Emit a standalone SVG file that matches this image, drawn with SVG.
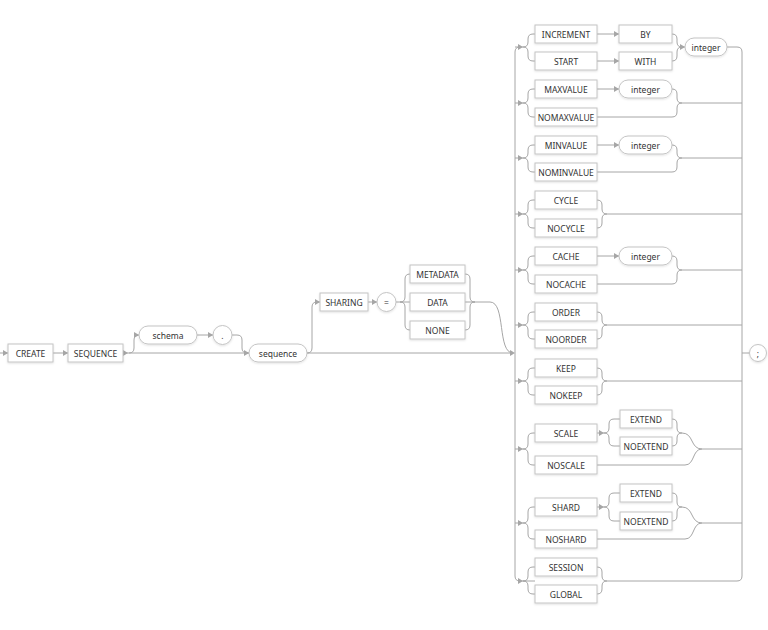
<svg xmlns="http://www.w3.org/2000/svg" width="768" height="630" viewBox="0 0 768 630">
<style>
.k{fill:#fff;stroke:#c4c4c4;stroke-width:1;filter:url(#sh)}
.t{font-family:"Noto Sans","Open Sans",sans-serif;font-size:8.5px;fill:#333;text-anchor:middle;dominant-baseline:central}
.c path{fill:none;stroke:#a6a6a6;stroke-width:1}
.ar{fill:#a6a6a6}
</style>
<defs>
<filter id="sh" x="-20%" y="-30%" width="140%" height="170%"><feDropShadow dx="0" dy="1" stdDeviation="1" flood-color="#000" flood-opacity="0.12"/></filter>
<path id="a" d="M-5,-3L0,0L-5,3z" class="ar"/>
</defs>
<rect width="768" height="630" fill="#fff"/>
<g class="c" id="connectors">
<path d="M0,353H8M53,353H68M123,353H129M129,353q5,0 5,-5V340q0,-5 5,-5H139M197,335H213M232,335h5q5,0 5,5V348q0,5 5,5H249M129,353H249M307,353q5,0 5,-5V307q0,-5 5,-5H320M307,353H513M368,302H377M396,302h4q5,0 5,-5V279q0,-5 5,-5M400,302H410M400,302q5,0 5,5V325q0,5 5,5M465,274q5,0 5,5V297q0,5 5,5M465,302H475M465,330q5,0 5,-5V307q0,-5 5,-5M475,302H490C506,302 497,353 513,353"/>
<path d="M520,47q-5,0 -5,5V576q0,5 5,5H535M737,47q5,0 5,5V576q0,5 -5,5H607M742,353H750"/>
<!-- G1 -->
<path d="M515,47H523q5,0 5,-5V39q0,-5 5,-5H535M523,47q5,0 5,5V56q0,5 5,5H535M597,34H619M597,61H619M672,34q5,0 5,5V42q0,5 5,5H685M672,61q5,0 5,-5V52q0,-5 5,-5M727,47H737"/>
<!-- G2 G3 G5 -->
<path d="M515,103H523q5,0 5,-5V94q0,-5 5,-5H535M523,103q5,0 5,5V112q0,5 5,5H535M597,89H619M597,117H672M672,89q5,0 5,5V98q0,5 5,5H742M672,117q5,0 5,-5V108q0,-5 5,-5"/>
<path d="M515,158H523q5,0 5,-5V150q0,-5 5,-5H535M523,158q5,0 5,5V167q0,5 5,5H535M597,145H619M597,172H672M672,145q5,0 5,5V153q0,5 5,5H742M672,172q5,0 5,-5V163q0,-5 5,-5"/>
<path d="M515,270H523q5,0 5,-5V261q0,-5 5,-5H535M523,270q5,0 5,5V279q0,5 5,5H535M597,256H619M597,284H672M672,256q5,0 5,5V265q0,5 5,5H742M672,284q5,0 5,-5V275q0,-5 5,-5"/>
<!-- G4 G6 G7 G10 -->
<path d="M515,214H523q5,0 5,-5V205q0,-5 5,-5H535M523,214q5,0 5,5V223q0,5 5,5H535M597,200q5,0 5,5V209q0,5 5,5H742M597,228q5,0 5,-5V219q0,-5 5,-5"/>
<path d="M515,325H523q5,0 5,-5V317q0,-5 5,-5H535M523,325q5,0 5,5V334q0,5 5,5H535M597,312q5,0 5,5V320q0,5 5,5H742M597,339q5,0 5,-5V330q0,-5 5,-5"/>
<path d="M515,381H523q5,0 5,-5V373q0,-5 5,-5H535M523,381q5,0 5,5V390q0,5 5,5H535M597,368q5,0 5,5V376q0,5 5,5H742M597,395q5,0 5,-5V386q0,-5 5,-5"/>
<path d="M523,581q5,0 5,-5V572q0,-5 5,-5H535M523,581q5,0 5,5V589q0,5 5,5H535M597,567q5,0 5,5V576q0,5 5,5M597,594q5,0 5,-5V586q0,-5 5,-5"/>
<!-- G8 -->
<path d="M515,449H523q5,0 5,-5V438q0,-5 5,-5H535M523,449q5,0 5,5V460q0,5 5,5H535M597,433H604q5,0 5,-5V424q0,-5 5,-5H620M604,433q5,0 5,5V441q0,5 5,5H620M672,419q5,0 5,5V428q0,5 5,5M672,446q5,0 5,-5V438q0,-5 5,-5C694,433 690,449 702,449H742M597,465H685C695,465 692,449 702,449"/>
<!-- G9 -->
<path d="M515,523H523q5,0 5,-5V512q0,-5 5,-5H535M523,523q5,0 5,5V534q0,5 5,5H535M597,507H604q5,0 5,-5V498q0,-5 5,-5H620M604,507q5,0 5,5V516q0,5 5,5H620M672,493q5,0 5,5V502q0,5 5,5M672,521q5,0 5,-5V512q0,-5 5,-5C694,507 690,523 702,523H742M597,539H685C695,539 692,523 702,523"/>
<use href="#a" x="8" y="353"/><use href="#a" x="68" y="353"/><use href="#a" x="128" y="353"/><use href="#a" x="139" y="335"/><use href="#a" x="213" y="335"/><use href="#a" x="249" y="353"/><use href="#a" x="320" y="302"/><use href="#a" x="377" y="302"/><use href="#a" x="515" y="353"/><use href="#a" x="755" y="353"/>
<use href="#a" x="523" y="47"/><use href="#a" x="523" y="103"/><use href="#a" x="523" y="158"/><use href="#a" x="523" y="214"/><use href="#a" x="523" y="270"/><use href="#a" x="523" y="325"/><use href="#a" x="523" y="381"/><use href="#a" x="523" y="449"/><use href="#a" x="523" y="523"/><use href="#a" x="523" y="581"/>
<use href="#a" x="619" y="34"/><use href="#a" x="619" y="61"/><use href="#a" x="685" y="47"/><use href="#a" x="619" y="89"/><use href="#a" x="619" y="145"/><use href="#a" x="619" y="256"/><use href="#a" x="604" y="433"/><use href="#a" x="604" y="507"/>
</g>
<g id="create"><rect class="k" x="8" y="344" width="45" height="18"/><text class="t" x="30.5" y="353">CREATE</text></g>
<g id="sequence-kw"><rect class="k" x="68" y="344" width="55" height="18"/><text class="t" x="95.5" y="353">SEQUENCE</text></g>
<g id="schema"><rect class="k" x="139" y="326" width="58" height="18" rx="9"/><text class="t" x="168" y="335">schema</text></g>
<g id="dot"><circle class="k" cx="222.5" cy="335" r="9.5"/><text class="t" x="222.5" y="335">.</text></g>
<g id="sequence"><rect class="k" x="249" y="344" width="58" height="18" rx="9"/><text class="t" x="278" y="353">sequence</text></g>
<g id="sharing"><rect class="k" x="320" y="293" width="48" height="18"/><text class="t" x="344" y="302">SHARING</text></g>
<g id="eq"><circle class="k" cx="386.5" cy="302" r="9.5"/><text class="t" x="386.5" y="302">=</text></g>
<g id="metadata"><rect class="k" x="410" y="265" width="55" height="18"/><text class="t" x="437.5" y="274">METADATA</text></g>
<g id="data"><rect class="k" x="410" y="293" width="55" height="18"/><text class="t" x="437.5" y="302">DATA</text></g>
<g id="none"><rect class="k" x="410" y="321" width="55" height="18"/><text class="t" x="437.5" y="330">NONE</text></g>
<g id="increment"><rect class="k" x="535" y="25" width="62" height="18"/><text class="t" x="566" y="34">INCREMENT</text></g>
<g id="by"><rect class="k" x="619" y="25" width="53" height="18"/><text class="t" x="645.5" y="34">BY</text></g>
<g id="start"><rect class="k" x="535" y="52" width="62" height="18"/><text class="t" x="566" y="61">START</text></g>
<g id="with"><rect class="k" x="619" y="52" width="53" height="18"/><text class="t" x="645.5" y="61">WITH</text></g>
<g id="int1"><rect class="k" x="685" y="38" width="42" height="18" rx="9"/><text class="t" x="706" y="47">integer</text></g>
<g id="maxvalue"><rect class="k" x="535" y="80" width="62" height="18"/><text class="t" x="566" y="89">MAXVALUE</text></g>
<g id="int2"><rect class="k" x="619" y="80" width="53" height="18" rx="9"/><text class="t" x="645.5" y="89">integer</text></g>
<g id="nomaxvalue"><rect class="k" x="535" y="108" width="62" height="18"/><text class="t" x="566" y="117">NOMAXVALUE</text></g>
<g id="minvalue"><rect class="k" x="535" y="136" width="62" height="18"/><text class="t" x="566" y="145">MINVALUE</text></g>
<g id="int3"><rect class="k" x="619" y="136" width="53" height="18" rx="9"/><text class="t" x="645.5" y="145">integer</text></g>
<g id="nominvalue"><rect class="k" x="535" y="163" width="62" height="18"/><text class="t" x="566" y="172">NOMINVALUE</text></g>
<g id="cycle"><rect class="k" x="535" y="191" width="62" height="18"/><text class="t" x="566" y="200">CYCLE</text></g>
<g id="nocycle"><rect class="k" x="535" y="219" width="62" height="18"/><text class="t" x="566" y="228">NOCYCLE</text></g>
<g id="cache"><rect class="k" x="535" y="247" width="62" height="18"/><text class="t" x="566" y="256">CACHE</text></g>
<g id="int4"><rect class="k" x="619" y="247" width="53" height="18" rx="9"/><text class="t" x="645.5" y="256">integer</text></g>
<g id="nocache"><rect class="k" x="535" y="275" width="62" height="18"/><text class="t" x="566" y="284">NOCACHE</text></g>
<g id="order"><rect class="k" x="535" y="303" width="62" height="18"/><text class="t" x="566" y="312">ORDER</text></g>
<g id="noorder"><rect class="k" x="535" y="330" width="62" height="18"/><text class="t" x="566" y="339">NOORDER</text></g>
<g id="keep"><rect class="k" x="535" y="359" width="62" height="18"/><text class="t" x="566" y="368">KEEP</text></g>
<g id="nokeep"><rect class="k" x="535" y="386" width="62" height="18"/><text class="t" x="566" y="395">NOKEEP</text></g>
<g id="scale"><rect class="k" x="535" y="424" width="62" height="18"/><text class="t" x="566" y="433">SCALE</text></g>
<g id="extend1"><rect class="k" x="620" y="410" width="52" height="18"/><text class="t" x="646" y="419">EXTEND</text></g>
<g id="noextend1"><rect class="k" x="620" y="437" width="52" height="18"/><text class="t" x="646" y="446">NOEXTEND</text></g>
<g id="noscale"><rect class="k" x="535" y="456" width="62" height="18"/><text class="t" x="566" y="465">NOSCALE</text></g>
<g id="shard"><rect class="k" x="535" y="498" width="62" height="18"/><text class="t" x="566" y="507">SHARD</text></g>
<g id="extend2"><rect class="k" x="620" y="484" width="52" height="18"/><text class="t" x="646" y="493">EXTEND</text></g>
<g id="noextend2"><rect class="k" x="620" y="512" width="52" height="18"/><text class="t" x="646" y="521">NOEXTEND</text></g>
<g id="noshard"><rect class="k" x="535" y="530" width="62" height="18"/><text class="t" x="566" y="539">NOSHARD</text></g>
<g id="session"><rect class="k" x="535" y="558" width="62" height="18"/><text class="t" x="566" y="567">SESSION</text></g>
<g id="global"><rect class="k" x="535" y="585" width="62" height="18"/><text class="t" x="566" y="594">GLOBAL</text></g>
<g id="semi"><circle class="k" cx="758" cy="353" r="8.5"/><text class="t" x="758" y="353">;</text></g>
</svg>
